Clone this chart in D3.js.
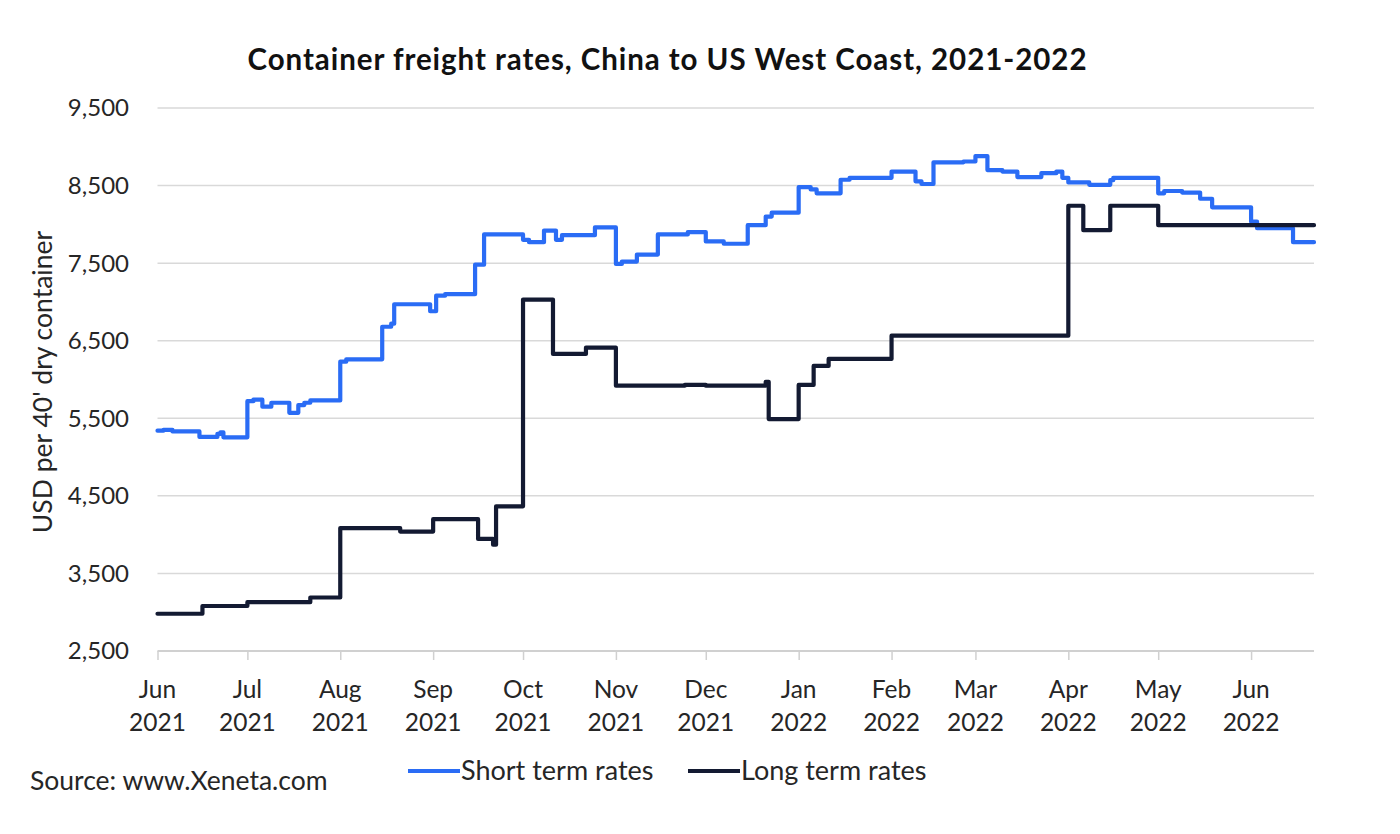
<!DOCTYPE html>
<html>
<head>
<meta charset="utf-8">
<script src="https://cdn.jsdelivr.net/npm/d3@7/dist/d3.min.js"></script>
<style>
  html, body { margin: 0; padding: 0; background: #fff; }
  svg { display: block; }
  text { font-family: Lato, "Open Sans", sans-serif; fill: #262626; }
</style>
</head>
<body>
<svg id="chart" width="1400" height="834"></svg>
<script>
// ---- Data ----
const shortDates = ["2021-06-01","2021-06-03","2021-06-06","2021-06-15","2021-06-21","2021-06-22","2021-06-23",
  "2021-07-01","2021-07-03","2021-07-06","2021-07-09","2021-07-15","2021-07-18","2021-07-20","2021-07-22",
  "2021-08-01","2021-08-03","2021-08-15","2021-08-18","2021-08-19","2021-08-31","2021-09-02","2021-09-05",
  "2021-09-15","2021-09-18","2021-10-01","2021-10-03","2021-10-08","2021-10-12","2021-10-14","2021-10-25",
  "2021-11-01","2021-11-03","2021-11-08","2021-11-15","2021-11-25","2021-12-01","2021-12-07","2021-12-15",
  "2021-12-21","2021-12-23","2022-01-01","2022-01-05","2022-01-07","2022-01-15","2022-01-18","2022-02-01",
  "2022-02-09","2022-02-11","2022-02-15","2022-02-25","2022-03-01","2022-03-05","2022-03-10","2022-03-15",
  "2022-03-23","2022-03-28","2022-03-30","2022-04-01","2022-04-08","2022-04-15","2022-04-16","2022-05-01",
  "2022-05-03","2022-05-09","2022-05-15","2022-05-19","2022-06-01","2022-06-03","2022-06-15","2022-06-22"];
const shortValues = [5340,5350,5330,5260,5300,5320,5255,
  5720,5740,5650,5700,5570,5670,5700,5730,
  6230,6260,6680,6720,6970,6880,7080,7100,
  7480,7870,7800,7770,7920,7800,7860,7960,
  7490,7520,7610,7870,7900,7780,7750,7990,
  8100,8150,8480,8450,8400,8575,8600,8680,
  8555,8520,8800,8810,8880,8700,8680,8610,
  8660,8680,8600,8540,8510,8570,8600,8400,
  8430,8410,8330,8220,8035,7950,7770,7770];

const longDates = ["2021-06-01","2021-06-16","2021-07-01","2021-07-22","2021-08-01","2021-08-21","2021-09-01",
  "2021-09-16","2021-09-21","2021-09-22","2021-10-01","2021-10-11","2021-10-22","2021-11-01","2021-11-24",
  "2021-12-01","2021-12-21","2021-12-22","2022-01-01","2022-01-06","2022-01-11","2022-02-01","2022-04-01",
  "2022-04-06","2022-04-15","2022-05-01","2022-06-22"];
const longValues = [2980,3080,3130,3190,4085,4040,4200,
  3945,3870,4365,7030,6330,6410,5920,5930,
  5920,5970,5490,5930,6175,6265,6565,8240,
  7925,8240,7990,7990];

const yTicks = [2500,3500,4500,5500,6500,7500,8500,9500];
const monthTicks = ["2021-06-01","2021-07-01","2021-08-01","2021-09-01","2021-10-01","2021-11-01","2021-12-01",
  "2022-01-01","2022-02-01","2022-03-01","2022-04-01","2022-05-01","2022-06-01"];
const seriesNames = ["Short term rates","Long term rates"];
const seriesColors = ["#2a6cf5","#131a32"];
const titleText = "Container freight rates, China to US West Coast, 2021-2022";
const yTitle = "USD per 40' dry container";
const sourceText = "Source: www.Xeneta.com";

// ---- Chart ----
const parse = d3.timeParse("%Y-%m-%d");
const svg = d3.select("#chart");

const x = d3.scaleTime()
  .domain([parse("2021-06-01"), parse("2022-06-22")])
  .range([157.5, 1314]);
const y = d3.scaleLinear().domain([2500, 9500]).range([651, 108]);

// gridlines
svg.append("g").selectAll("line").data(yTicks.slice(1)).join("line")
  .attr("x1", x.range()[0]).attr("x2", x.range()[1])
  .attr("y1", d => y(d)).attr("y2", d => y(d))
  .attr("stroke", "#d9d9d9").attr("stroke-width", 1.5);

// y labels
svg.append("g").selectAll("text").data(yTicks).join("text")
  .attr("x", 129).attr("y", d => y(d)).attr("dy", "0.35em")
  .attr("text-anchor", "end").attr("font-size", 24)
  .text(d => d3.format(",")(d));

// x axis
const xAxis = d3.axisBottom(x)
  .tickValues(monthTicks.map(parse))
  .tickSize(9).tickFormat("");
const gx = svg.append("g").attr("transform", `translate(0,${y(2500)})`).call(xAxis);
gx.select(".domain").attr("stroke", "#d0d0d0").attr("stroke-width", 2).attr("d", `M${x.range()[0]},0H${x.range()[1]}`);
gx.selectAll(".tick line").attr("stroke", "#d0d0d0").attr("stroke-width", 1.5);

const fmtM = d3.timeFormat("%b"), fmtY = d3.timeFormat("%Y");
const xl = svg.append("g").selectAll("g").data(monthTicks.map(parse)).join("g")
  .attr("transform", d => `translate(${x(d)},0)`);
xl.append("text").attr("y", 698).attr("text-anchor", "middle").attr("font-size", 24.5).text(d => fmtM(d));
xl.append("text").attr("y", 731).attr("text-anchor", "middle").attr("font-size", 24.5).text(d => fmtY(d));

// lines
const line = d3.line().x(d => x(d[0])).y(d => y(d[1])).curve(d3.curveStepAfter);
const shortData = shortDates.map((d, i) => [parse(d), shortValues[i]]);
const longData = longDates.map((d, i) => [parse(d), longValues[i]]);
[shortData, longData].forEach((data, i) => {
  svg.append("path").datum(data).attr("d", line)
    .attr("fill", "none").attr("stroke", seriesColors[i])
    .attr("stroke-width", 4.2).attr("stroke-linejoin", "round").attr("stroke-linecap", "round");
});

// title
svg.append("text").attr("x", 667).attr("y", 70).attr("text-anchor", "middle")
  .attr("font-size", 29.5).attr("font-weight", "bold").style("fill", "#111")
  .attr("textLength", 839).attr("lengthAdjust", "spacing").text(titleText);

// y title
svg.append("text").attr("transform", `translate(52,382) rotate(-90)`)
  .attr("text-anchor", "middle").attr("font-size", 26.5).text(yTitle);

// source
svg.append("text").attr("x", 30).attr("y", 790).attr("font-size", 26.5).text(sourceText);

// legend
const legX = [408, 688];
seriesNames.forEach((n, i) => {
  svg.append("line").attr("x1", legX[i]).attr("x2", legX[i] + 52)
    .attr("y1", 771).attr("y2", 771).attr("stroke", seriesColors[i]).attr("stroke-width", 4);
  svg.append("text").attr("x", legX[i] + 53).attr("y", 780).attr("font-size", 27).text(n);
});
</script>
</body>
</html>
